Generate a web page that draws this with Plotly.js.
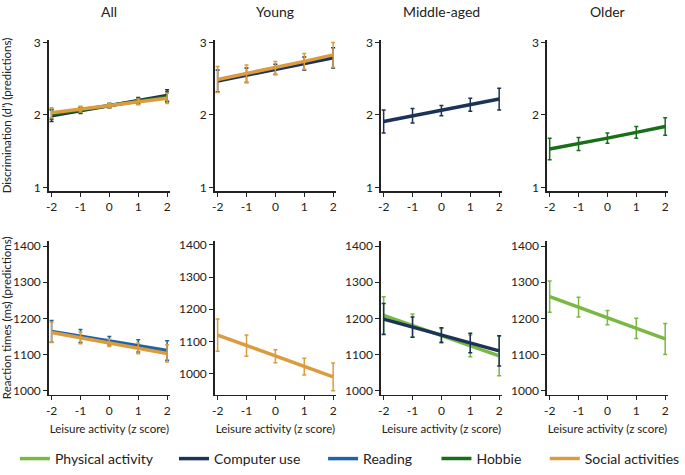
<!DOCTYPE html>
<html>
<head>
<meta charset="utf-8">
<script src="https://cdn.plot.ly/plotly-3.0.1.min.js"></script>
<style>
  html, body { margin: 0; padding: 0; background: #fff; }
  #chart { width: 685px; height: 475px; }
</style>
</head>
<body>
<div id="chart"></div>
<script>
// leisure activity z scores (x axis)
const zScores = [-2, -1, 0, 1, 2];
const panelTitles = ['All', 'Young', 'Middle-aged', 'Older'];
const seriesNames = ['Physical activity', 'Computer use', 'Reading', 'Hobbie', 'Social activities'];

// discrimination (d') predictions
const allDiscComputer = [1.99, 2.06, 2.13, 2.20, 2.27];
const allDiscComputerErr = [0.08, 0.04, 0.03, 0.04, 0.08];
const allDiscHobbie = [2.01, 2.07, 2.13, 2.19, 2.25];
const allDiscHobbieErr = [0.07, 0.04, 0.03, 0.04, 0.07];
const allDiscSocial = [2.03, 2.08, 2.13, 2.18, 2.23];
const allDiscSocialErr = [0.07, 0.04, 0.03, 0.04, 0.07];
const youngDiscComputer = [2.47, 2.55, 2.63, 2.71, 2.79];
const youngDiscComputerErr = [0.15, 0.10, 0.07, 0.09, 0.14];
const youngDiscSocial = [2.49, 2.57, 2.65, 2.74, 2.83];
const youngDiscSocialErr = [0.18, 0.12, 0.09, 0.11, 0.17];
const middleDiscComputer = [1.91, 1.99, 2.06, 2.14, 2.22];
const middleDiscComputerErr = [0.16, 0.10, 0.07, 0.09, 0.15];
const olderDiscHobbie = [1.53, 1.60, 1.68, 1.76, 1.84];
const olderDiscHobbieErr = [0.15, 0.09, 0.07, 0.08, 0.12];

// reaction time (ms) predictions
const allRtReading = [1164, 1151, 1138, 1124, 1111];
const allRtReadingErr = [30, 18, 12, 17, 27];
const allRtSocial = [1161, 1146, 1132, 1117, 1103];
const allRtSocialErr = [28, 16, 10, 15, 24];
const youngRtSocial = [1120, 1087, 1054, 1022, 990];
const youngRtSocialErr = [50, 33, 20, 26, 43];
const middleRtPhysical = [1208, 1180, 1152, 1124, 1096];
const middleRtPhysicalErr = [52, 32, 20, 30, 55];
const middleRtComputer = [1198, 1176, 1154, 1132, 1110];
const middleRtComputerErr = [43, 28, 20, 27, 42];
const olderRtPhysical = [1260, 1231, 1202, 1172, 1143];
const olderRtPhysicalErr = [43, 27, 20, 28, 43];

const discTicks = [1, 2, 3];
const rtTicks = [1000, 1100, 1200, 1300, 1400];

const colors = {
  'Physical activity': '#78b843',
  'Computer use': '#1c3358',
  'Reading': '#1d63a8',
  'Hobbie': '#176f17',
  'Social activities': '#dc9b3f'
};
// left edge (px) of each legend entry
const legendLeft = [15, 175, 325, 439, 548];

const seen = {};
function series(name, ys, errs, panel) {
  const show = !seen[name];
  seen[name] = true;
  const suffix = panel === 1 ? '' : panel;
  const idx = seriesNames.indexOf(name);
  return {
    x: zScores, y: ys, name: name,
    type: 'scatter', mode: 'lines',
    xaxis: 'x' + suffix, yaxis: 'y' + suffix,
    line: { color: colors[name], width: 3.5 },
    error_y: { type: 'data', array: errs, visible: true, color: colors[name], thickness: 1.5, width: 2 },
    legendgroup: name, showlegend: show,
    legend: idx === 0 ? 'legend' : 'legend' + (idx + 1)
  };
}

const traces = [
  series('Computer use', allDiscComputer, allDiscComputerErr, 1),
  series('Hobbie', allDiscHobbie, allDiscHobbieErr, 1),
  series('Social activities', allDiscSocial, allDiscSocialErr, 1),
  series('Computer use', youngDiscComputer, youngDiscComputerErr, 2),
  series('Social activities', youngDiscSocial, youngDiscSocialErr, 2),
  series('Computer use', middleDiscComputer, middleDiscComputerErr, 3),
  series('Hobbie', olderDiscHobbie, olderDiscHobbieErr, 4),
  series('Reading', allRtReading, allRtReadingErr, 5),
  series('Social activities', allRtSocial, allRtSocialErr, 5),
  series('Social activities', youngRtSocial, youngRtSocialErr, 6),
  series('Physical activity', middleRtPhysical, middleRtPhysicalErr, 7),
  series('Computer use', middleRtComputer, middleRtComputerErr, 7),
  series('Physical activity', olderRtPhysical, olderRtPhysicalErr, 8)
];

const W = 685, H = 475;
const colPx = [[49, 171], [216, 338], [383, 505], [550, 672]];
const topRow = [(H - 193) / H, (H - 40) / H];
const bottomRow = [(H - 398) / H, (H - 243) / H];

const font = { family: 'Lato, Open Sans, sans-serif', color: '#222' };

function xAxis(col, bottom) {
  const ax = {
    domain: [colPx[col][0] / W, colPx[col][1] / W],
    range: [-2.1, 2.1],
    tickvals: zScores, ticktext: zScores.map(String),
    showline: true, linecolor: '#222', linewidth: 1.5,
    ticks: 'outside', ticklen: 4, tickcolor: '#222', tickwidth: 1,
    showgrid: false, zeroline: false,
    tickfont: { size: 12 }, fixedrange: true,
    anchor: 'y' + (bottom ? col + 5 : (col === 0 ? '' : col + 1))
  };
  if (bottom) ax.title = { text: 'Leisure activity (z score)', font: { size: 11.5 }, standoff: 8 };
  return ax;
}

function yAxis(col, bottom) {
  const ax = {
    domain: bottom ? bottomRow : topRow,
    showline: true, linecolor: '#222', linewidth: 1.5,
    ticks: 'outside', ticklen: 4, tickcolor: '#222', tickwidth: 1,
    showgrid: false, zeroline: false,
    tickfont: { size: 12 }, fixedrange: true,
    anchor: 'x' + (bottom ? col + 5 : (col === 0 ? '' : col + 1))
  };
  if (bottom) {
    ax.tickvals = rtTicks;
    ax.range = col === 1 ? [935, 1412] : [989, 1414];
  } else {
    ax.tickvals = discTicks;
    ax.range = [0.945, 3.04];
  }
  if (col === 0) {
    ax.title = bottom
      ? { text: 'Reaction times (ms) (predictions)', font: { size: 11.5 }, standoff: 4 }
      : { text: 'Discrimination (d’) (predictions)', font: { size: 11.5 }, standoff: 22 };
  }
  return ax;
}

const layout = {
  width: W, height: H,
  margin: { l: 0, r: 0, t: 0, b: 0 },
  paper_bgcolor: '#fff', plot_bgcolor: '#fff',
  font: font,
  showlegend: true,
  annotations: panelTitles.map((t, i) => ({
    text: t, xref: 'paper', yref: 'paper',
    x: (colPx[i][0] + colPx[i][1]) / 2 / W, y: (H - 12) / H,
    xanchor: 'center', yanchor: 'middle', showarrow: false,
    font: { size: 14, color: '#222' }
  }))
};

seriesNames.forEach((n, i) => {
  layout[i === 0 ? 'legend' : 'legend' + (i + 1)] = {
    orientation: 'h', x: legendLeft[i] / W, xanchor: 'left', y: 0.025, yanchor: 'middle',
    font: { size: 14 }, bgcolor: 'rgba(0,0,0,0)'
  };
});

for (let i = 0; i < 4; i++) {
  const topKey = i === 0 ? '' : i + 1;
  layout['xaxis' + topKey] = xAxis(i, false);
  layout['yaxis' + topKey] = yAxis(i, false);
  layout['xaxis' + (i + 5)] = xAxis(i, true);
  layout['yaxis' + (i + 5)] = yAxis(i, true);
}

Plotly.newPlot('chart', traces, layout, { displayModeBar: false, staticPlot: true });
</script>
</body>
</html>
